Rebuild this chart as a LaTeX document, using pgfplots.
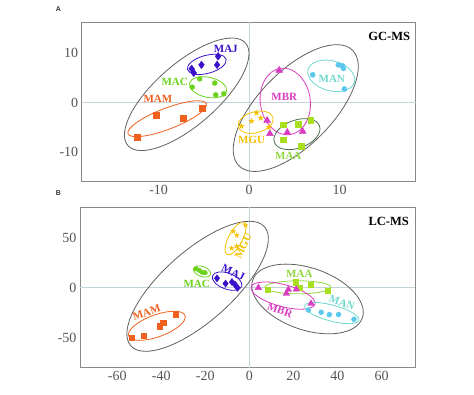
\documentclass[border=0pt]{standalone}
\usepackage{fontspec}
\setmainfont{Liberation Serif}
\newfontfamily\labfont{Liberation Sans}
\newfontfamily\dejavu{DejaVu Sans}
\usepackage{pgfplots}
\pgfplotsset{compat=1.18}
\definecolor{cMAM}{HTML}{F0601E}
\definecolor{cMAC}{HTML}{6CD21E}
\definecolor{cMAJ}{HTML}{3A10C8}
\definecolor{cMBR}{HTML}{D83CC0}
\definecolor{cMANp}{HTML}{5CC8EE}
\definecolor{cMAN}{HTML}{70D8CC}
\definecolor{cMGU}{HTML}{F5C000}
\definecolor{cMAAp}{HTML}{A8E020}
\definecolor{cMAA}{HTML}{90D840}
\definecolor{cMAAdark}{HTML}{4A7050}
\definecolor{cbig}{HTML}{606060}
\definecolor{framec}{HTML}{888888}
\definecolor{zeroc}{HTML}{C4D4DA}
\definecolor{tickc}{HTML}{555555}
\newcommand{\myell}[6]{\draw[#1, line width=0.8pt, rotate around={#6:(axis cs:#2,#3)}] (axis cs:#2,#3) ellipse [x radius=#4pt, y radius=#5pt];}
\newcommand{\starA}{\textcolor{cMGU}{\fontsize{9}{9}\selectfont\dejavu ★}}
\newcommand{\starB}{\textcolor{cMGU}{\fontsize{8.5}{8.5}\selectfont\dejavu ★}}
\pgfplotsset{
  myaxis/.style={scale only axis, anchor=south west, clip=false,
    axis line style={draw=framec, line width=0.9pt},
    major tick length=0pt,
    tick label style={font=\fontsize{14}{14}\selectfont, text=tickc},
  },
  grp/.style={only marks, mark options={draw=none, fill=#1}, color=#1},
}
\tikzset{lab/.style={font=\bfseries\fontsize{11}{11}\selectfont, text=#1, inner sep=0pt}}
\begin{document}
\begin{tikzpicture}
\useasboundingbox (0pt,0pt) rectangle (474pt,395pt);
\node[font=\labfont\bfseries\fontsize{7}{7}\selectfont, text=black!80] at (58.3pt,385.7pt) {A};
\node[font=\labfont\bfseries\fontsize{7}{7}\selectfont, text=black!80] at (58.3pt,201.7pt) {B};
% ---------------- Panel A ----------------
\begin{axis}[myaxis, at={(81.7pt,213.3pt)}, width=334pt, height=159.7pt,
  xmin=-18.5, xmax=18.4, ymin=-16, ymax=16.25,
  xtick={-10,0,10}, xticklabels={-10,0,10},
  ytick={-10,0,10}, yticklabels={-10,0,10}]
\draw[zeroc, line width=0.8pt] (axis cs:0,-16) -- (axis cs:0,16.25);
\draw[zeroc, line width=0.8pt] (axis cs:-18.5,0) -- (axis cs:18.4,0);
\myell{cbig}{-6.90}{1.65}{78}{31}{41}
\myell{cbig}{5.15}{-1.13}{81}{37}{45.6}
\myell{cMAJ}{-4.68}{7.69}{20}{9}{15}
\myell{cMAC}{-4.54}{3.06}{19}{10}{-12}
\myell{cMAM}{-9.06}{-3.28}{42}{10.5}{21}
\myell{cMAN}{9.07}{5.38}{24}{15}{-15}
\myell{cMBR}{3.99}{0.20}{33.5}{25}{98}
\myell{cMGU}{0.72}{-3.99}{18}{10.5}{15}
\myell{cMAAdark}{5.28}{-6.40}{24}{14}{20}
\addplot[grp=cMAJ, mark=diamond*, mark size=3.8pt] coordinates {(-6.35,6.79) (-6.12,5.98) (-5.27,7.59) (-3.54,7.59) (-3.43,9.31)};
\addplot[grp=cMAC, mark=*, mark size=2.5pt] coordinates {(-6.29,3.10) (-5.46,4.77) (-3.80,3.91) (-3.69,1.55) (-2.80,1.75)};
\addplot[grp=cMAM, mark=square*, mark size=3pt] coordinates {(-12.36,-6.97) (-10.25,-2.62) (-7.31,-3.22) (-5.16,-1.21)};
\addplot[grp=cMANp, mark=*, mark size=2.6pt] coordinates {(7.02,5.58) (9.86,7.59) (10.30,7.39) (10.41,6.89) (10.52,2.70)};
\addplot[grp=cMBR, mark=triangle*, mark size=4pt] coordinates {(3.32,6.49) (1.99,-3.63) (2.29,-6.30) (4.21,-6.04) (5.91,-5.84)};
\addplot[only marks, mark=text, text mark={\starA}] coordinates {(-0.84,-4.83) (0.27,-3.89) (0.82,-2.18) (1.30,-3.14) (2.21,-5.10)};
\addplot[grp=cMAAp, mark=square*, mark size=2.8pt] coordinates {(3.79,-4.49) (5.43,-4.39) (6.81,-3.54) (3.79,-7.51) (5.76,-8.86)};
\node[lab=cMAJ] at (axis cs:-2.58,10.8) {MAJ};
\node[lab=cMAC] at (axis cs:-8.23,4.23) {MAC};
\node[lab=cMAM] at (axis cs:-10.08,0.68) {MAM};
\node[lab=cMAN] at (axis cs:9.13,4.71) {MAN};
\node[lab=cMBR] at (axis cs:3.88,1.21) {MBR};
\node[lab=cMGU] at (axis cs:0.27,-7.51) {MGU};
\node[lab=cMAA] at (axis cs:4.32,-10.74) {MAA};
\node[anchor=east, font=\bfseries\fontsize{12.5}{12.5}\selectfont, inner sep=0pt] at (axis cs:17.8,13.43) {GC-MS};
\end{axis}
% ---------------- Panel B ----------------
\begin{axis}[myaxis, at={(80pt,27.3pt)}, width=335pt, height=160.4pt,
  xmin=-76.9, xmax=75.2, ymin=-80.2, ymax=80.2,
  xtick={-60,-40,-20,0,20,40,60}, xticklabels={-60,-40,-20,0,20,40,60},
  ytick={-50,0,50}, yticklabels={-50,0,50}]
\draw[zeroc, line width=0.8pt] (axis cs:0,-80.2) -- (axis cs:0,80.2);
\draw[zeroc, line width=0.8pt] (axis cs:-76.9,0) -- (axis cs:75.2,0);
\myell{cbig}{-23.5}{1.2}{89.5}{35}{41.7}
\myell{cbig}{26.4}{-11.5}{58}{31}{-19}
\myell{cMAM}{-42.0}{-38.3}{30}{11}{20}
\myell{cMAC}{-21.5}{16.0}{9}{5}{-20}
\myell{cMAJ}{-10.1}{6.4}{15.5}{8}{-20}
\myell{cMGU}{-6.3}{48.9}{18}{7}{62}
\myell{cMAA}{22.1}{0.2}{33}{6.5}{0}
\myell{cMBR}{15.3}{-8.1}{33}{11}{-15}
\myell{cMAN}{37.4}{-25.6}{28}{8}{-15}
\addplot[grp=cMAM, mark=square*, mark size=2.8pt] coordinates {(-53.4,-50.3) (-47.9,-48.1) (-40.7,-38.8) (-39.0,-35.1) (-33.4,-26.8)};
\addplot[grp=cMAC, mark=*, mark size=2.3pt] coordinates {(-24.2,18.7) (-22.8,17.2) (-21.5,15.2) (-20.1,14.7)};
\addplot[grp=cMAJ, mark=diamond*, mark size=3.6pt] coordinates {(-14.7,9.2) (-10.8,3.9) (-7.9,5.5) (-6.5,2.9) (-5.4,-0.3)};
\addplot[only marks, mark=text, text mark={\starB}] coordinates {(-1.7,62.2) (-7.2,55.7) (-5.6,52.2) (-5.8,41.5) (-8.0,38.9)};
\addplot[grp=cMAAp, mark=square*, mark size=2.6pt] coordinates {(8.5,-2.1) (21.1,5.2) (22.9,0.1) (27.9,2.5) (35.5,-3.1)};
\addplot[grp=cMBR, mark=triangle*, mark size=3.8pt] coordinates {(4.1,-0.3) (16.8,-6.1) (17.7,-2.1) (21.3,-1.8) (28.0,-16.1)};
\addplot[grp=cMANp, mark=*, mark size=2.5pt] coordinates {(26.8,-22.5) (32.6,-24.8) (36.3,-27.1) (40.5,-27.1) (47.5,-31.8)};
\node[lab=cMAM, rotate=20] at (axis cs:-46.6,-25.1) {MAM};
\node[lab=cMAC] at (axis cs:-23.9,3.9) {MAC};
\node[lab=cMAJ, rotate=-25] at (axis cs:-7.3,14.9) {MAJ};
\node[lab=cMGU, rotate=65] at (axis cs:-2.8,41.2) {MGU};
\node[lab=cMAA] at (axis cs:22.7,13.2) {MAA};
\node[lab=cMBR, rotate=-20] at (axis cs:13.9,-22.8) {MBR};
\node[lab=cMAN, rotate=-20] at (axis cs:42.0,-15.1) {MAN};
\node[anchor=east, font=\bfseries\fontsize{12.5}{12.5}\selectfont, inner sep=0pt] at (axis cs:72.5,66.5) {LC-MS};
\end{axis}
\end{tikzpicture}
\end{document}
